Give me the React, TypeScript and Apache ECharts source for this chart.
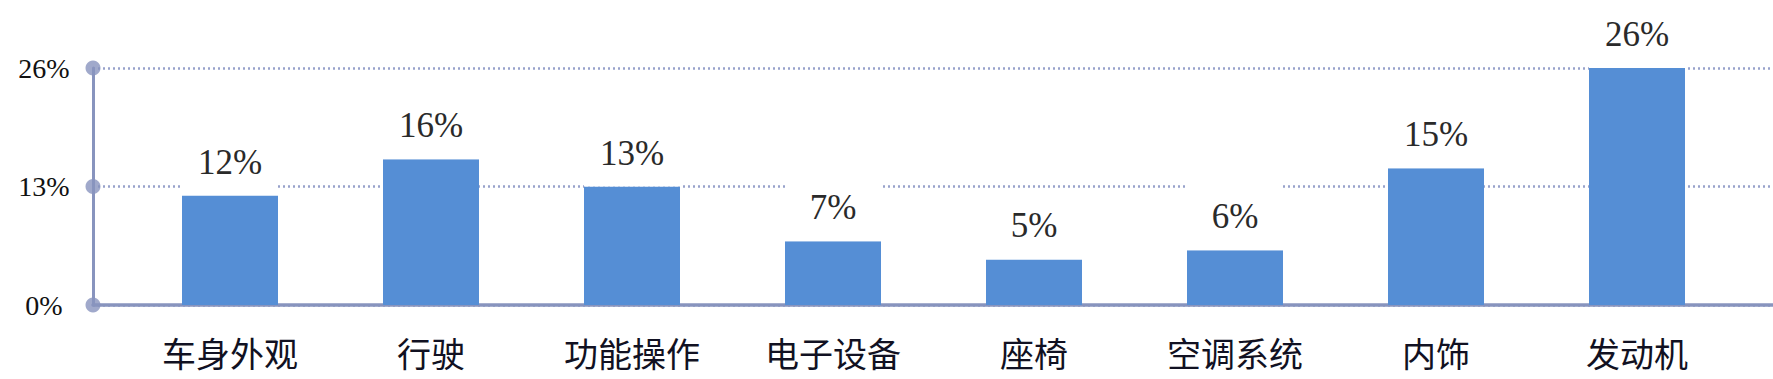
import React, { useEffect, useRef } from "react";
import * as echarts from "echarts";

const categories = ["车身外观", "行驶", "功能操作", "电子设备", "座椅", "空调系统", "内饰", "发动机"];
const values = [12, 16, 13, 7, 5, 6, 15, 26];
const yTicks = [0, 13, 26];

const AXIS_COLOR = "#8894be";
const GRID_COLOR = "#98a2cb";
const BAR_COLOR = "#558ED5";

export default function App() {
  const ref = useRef<HTMLDivElement>(null);
  useEffect(() => {
    document.body.style.margin = "0";
    const chart = echarts.init(ref.current!, undefined, { renderer: "svg" });
    chart.setOption({
      animation: false,
      backgroundColor: "#ffffff",
      grid: [
        { left: 93, right: 0, top: 68, bottom: 74 },
        { left: 129.5, right: 35.5, top: 68, bottom: 74 },
      ],
      xAxis: [
        {
          type: "value",
          gridIndex: 0,
          min: 0,
          max: 1,
          axisLine: { show: true, lineStyle: { color: AXIS_COLOR, width: 3.5 } },
          axisTick: { show: false },
          axisLabel: { show: false },
          splitLine: { show: false },
        },
        {
          type: "category",
          gridIndex: 1,
          data: categories,
          axisLine: { show: false },
          axisTick: { show: false },
          axisLabel: {
            margin: 30,
            fontSize: 34,
            color: "#111122",
            fontFamily: "Noto Sans CJK SC",
          },
        },
      ],
      yAxis: [
        {
          type: "value",
          gridIndex: 0,
          min: 0,
          max: yTicks[yTicks.length - 1],
          interval: 13,
          axisLine: { show: true, lineStyle: { color: AXIS_COLOR, width: 3 } },
          axisTick: { show: false },
          axisLabel: {
            formatter: "{value}%",
            align: "center",
            margin: 49,
            fontSize: 28,
            color: "#111111",
            fontFamily: "Liberation Serif",
          },
          splitLine: {
            show: true,
            lineStyle: { color: GRID_COLOR, width: 2.5, type: [2, 3] },
          },
        },
        {
          type: "value",
          gridIndex: 1,
          min: 0,
          max: yTicks[yTicks.length - 1],
          interval: 13,
          show: false,
          splitLine: { show: false },
        },
      ],
      series: [
        {
          type: "bar",
          xAxisIndex: 1,
          yAxisIndex: 1,
          data: values,
          barWidth: 96,
          itemStyle: { color: BAR_COLOR },
          label: {
            show: true,
            position: "top",
            distance: 0,
            formatter: "{c}%",
            fontSize: 35,
            lineHeight: 35,
            color: "#2a2a2a",
            fontFamily: "Liberation Serif",
            backgroundColor: "#ffffff",
            width: 96,
            align: "center",
            padding: [15, 0, 16, 0],
          },
          z: 3,
        },
        {
          type: "scatter",
          xAxisIndex: 0,
          yAxisIndex: 0,
          data: yTicks.map((v) => [0, v]),
          symbolSize: 15,
          itemStyle: { color: AXIS_COLOR },
          silent: true,
          z: 5,
        },
      ],
    });
    return () => chart.dispose();
  }, []);
  return <div ref={ref} style={{ width: 1773, height: 379 }} />;
}
